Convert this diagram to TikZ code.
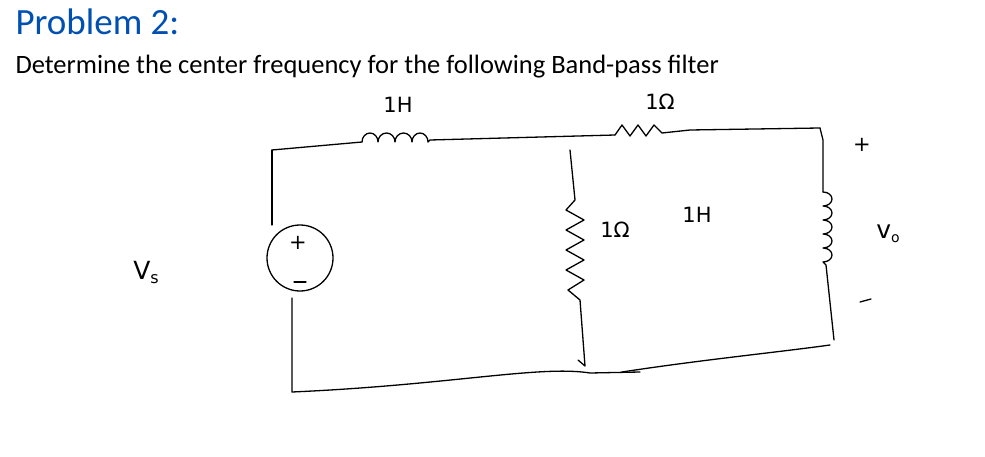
\documentclass[tikz,border=0pt]{standalone}
\usepackage{fontspec}
\setmainfont{Carlito}
\newfontfamily\dv{DejaVu Sans}
\begin{document}
\begin{tikzpicture}[x=1pt,y=-1pt,
  wire/.style={line width=1.3pt,line cap=round,line join=round},
  hand/.style={font=\dv\fontsize{21}{24}\selectfont}]
\useasboundingbox[fill=white] (0,0) rectangle (985,457);
\node[anchor=west,text=blue!55!cyan!70!black,font=\fontsize{37}{40}\selectfont] (t) at (12,22) {Problem 2:};
\node[anchor=west,font=\fontsize{26.5}{30}\selectfont] (s) at (12,67) {Determine the center frequency for the following Band-pass filter};
% coordinates
\coordinate (a) at (272,150);
\coordinate (l1a) at (362,142);
\coordinate (l1b) at (430,140);
\coordinate (r1a) at (615,135);
\coordinate (r1b) at (690,130);
\coordinate (b) at (820,128);
\coordinate (m) at (570,150);
\coordinate (mb) at (585,366);
\coordinate (c) at (823,140);
\coordinate (cb) at (834,340);
\coordinate (d) at (292,392);
\coordinate (n1) at (294,282);
\coordinate (n2) at (306,282);
\coordinate (m1) at (860,302);
\coordinate (m2) at (871,299);
\node[draw,circle,line width=1.3pt,minimum size=66pt] (src) at (300,258) {};
% top wire
\draw[wire] (a) -- (272,225);
\draw[wire] (a) -- (l1a);
\draw[wire] (l1a) arc (180:360:8 and 9) arc (180:360:8.5 and 9) arc (180:360:8.5 and 9) arc (180:360:8 and 9) -- (l1b);
\draw[wire] (l1b) -- (r1a);
\draw[wire] (r1a) -- (622,125) -- (630,136) -- (638,125) -- (646,136) -- (654,125) -- (662,133) -- (r1b) -- (b);
% middle resistor
\draw[wire] (m) -- (575,200) -- (566,210) -- (584,220) -- (566,230) -- (584,240) -- (566,250) -- (584,260) -- (566,270) -- (584,280) -- (568,290) -- (580,300) -- (mb) -- (578,360);
% right inductor
\draw[wire] (b) -- (c) -- (823,192);
\draw[wire] (823,192) arc (-90:90:9 and 7) arc (-90:90:9 and 7) arc (-90:90:9 and 7) arc (-90:90:9 and 7) arc (-90:90:9 and 7) -- (826,265) -- (cb);
% bottom
\draw[wire] (622,372) .. controls (700,360) and (780,352) .. (830,345);
\draw[wire] (292,298) -- (d) .. controls (450,385) and (540,365) .. (590,373) -- (640,372);
% source signs
\node[hand] (p) at (298,243) {+};
\draw[wire] (n1) -- (n2);
% labels
\node[hand] (L1) at (398,105) {1H};
\node[hand] (R1) at (660,102) {1Ω};
\node[hand] (R2) at (615,230) {1Ω};
\node[hand] (L2) at (697,215) {1H};
\node[hand,font=\dv\fontsize{25}{28}\selectfont] (vs) at (146,272) {V\raisebox{-4pt}{\fontsize{16}{18}\selectfont s}};
\node[hand,font=\dv\fontsize{25}{28}\selectfont] (vo) at (888,234) {v\raisebox{-4pt}{\fontsize{14}{16}\selectfont o}};
\node[hand] (vp) at (862,145) {+};
\draw[wire] (m1) -- (m2);
\end{tikzpicture}
\end{document}
